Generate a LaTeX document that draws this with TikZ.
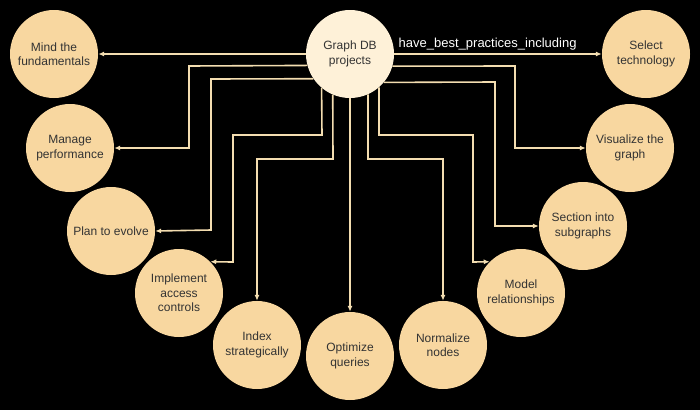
\documentclass[tikz,border=0pt]{standalone}
\usepackage{fontspec}
\setmainfont{Liberation Sans}
\usetikzlibrary{arrows.meta}
\definecolor{peach}{HTML}{F8D7A0}
\definecolor{cream}{HTML}{FEF1D8}
\definecolor{wire}{HTML}{F3DDB0}
\definecolor{ink}{HTML}{333333}
\begin{document}
\begin{tikzpicture}[x=1pt,y=-1pt,
  item/.style={circle,fill=peach,minimum size=88pt,inner sep=0pt,align=center,text=ink,font=\fontsize{12}{14.5}\selectfont},
  hub/.style={item,fill=cream},
  link/.style={draw=wire,line width=1.6pt,-{Latex[length=6pt,width=5pt]}}]
\fill[black] (0,0) rectangle (700,410);
\node[hub] (c) at (350,54) {Graph DB\\projects};
\node[item] (mind) at (54,54) {Mind the\\fundamentals};
\node[item] (sel) at (646,54) {Select\\technology};
\node[item] (man) at (70,148) {Manage\\performance};
\node[item] (vis) at (630,148) {Visualize the\\graph};
\node[item] (plan) at (111,231) {Plan to evolve};
\node[item] (sec) at (583,226) {Section into\\subgraphs};
\node[item] (imp) at (179,293) {Implement\\access\\controls};
\node[item] (mod) at (521,293) {Model\\relationships};
\node[item] (idx) at (257,345) {Index\\strategically};
\node[item] (opt) at (350,356) {Optimize\\queries};
\node[item] (nor) at (443,345) {Normalize\\nodes};
\draw[link] (c.west) -- (mind.east);
\draw[link] (c.east) -- node[above,text=white,font=\fontsize{13}{15}\selectfont,pos=0.45]{have\_best\_practices\_including} (sel.west);
\draw[link] (c.195.8) -- (189,66) -- (189,148) -- (man.east);
\draw[link] (c.214.6) -- (211,79) -- (211,230) -- (plan.east);
\draw[link] (c.230.5) -- (322,135) -- (233,135) -- (233,262) -- (imp.45);
\draw[link] (c.247.3) -- (333,159) -- (257,159) -- (idx.north);
\draw[link] (c.south) -- (opt.north);
\draw[link] (c.294.2) -- (368,159) -- (443,159) -- (nor.north);
\draw[link] (c.311.2) -- (379,135) -- (473,135) -- (473,262) -- (mod.135);
\draw[link] (c.320.5) -- (495,82) -- (495,226) -- (sec.west);
\draw[link] (c.344.2) -- (515,66) -- (515,148) -- (vis.west);
\end{tikzpicture}
\end{document}
